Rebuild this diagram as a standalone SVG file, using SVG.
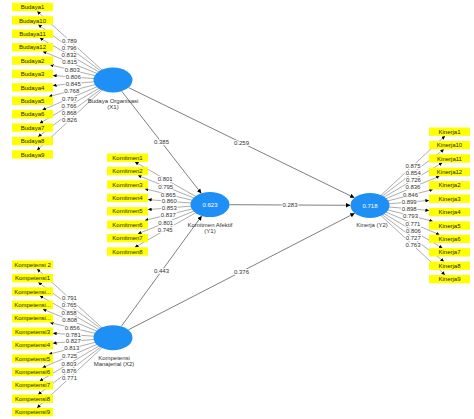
<svg xmlns="http://www.w3.org/2000/svg" width="474" height="419" viewBox="0 0 474 419">
<style>
.bg{fill:#ffffff}
.box{fill:#ffff00}
.bt{font-family:"Liberation Sans",Arial,sans-serif;font-size:6px;fill:#222;text-anchor:middle}
.lv{stroke:#8a8a8a;stroke-width:0.7;fill:none;marker-end:url(#ah)}
.sp{stroke:#707070;stroke-width:0.9;fill:none;marker-end:url(#ah2)}
.ld{font-family:"Liberation Sans",Arial,sans-serif;font-size:6px;fill:#333;text-anchor:middle;stroke:#fff;stroke-width:2;paint-order:stroke}
.lv2{font-family:"Liberation Sans",Arial,sans-serif;font-size:6px;fill:#333;text-anchor:middle}
.el{fill:#1e8ff5}
.ev{font-family:"Liberation Sans",Arial,sans-serif;font-size:6px;fill:#fff;text-anchor:middle}
</style>
<defs>
<marker id="ah" viewBox="0 0 10 10" refX="10" refY="5" markerWidth="3.6" markerHeight="3.6" markerUnits="userSpaceOnUse" orient="auto"><path d="M0,0 L10,5 L0,10 z" fill="#000"/></marker>
<marker id="ah2" viewBox="0 0 10 10" refX="10" refY="5" markerWidth="4.5" markerHeight="4.5" markerUnits="userSpaceOnUse" orient="auto"><path d="M0,0 L10,5 L0,10 z" fill="#000"/></marker>
</defs>
<rect class="bg" x="0" y="0" width="474" height="419"/>
<g id="connectors">
<path class="lv" d="M113,80 L37.1,11.2"/>
<path class="lv" d="M113,80 L38.2,24.6"/>
<path class="lv" d="M113,80 L39.8,38.0"/>
<path class="lv" d="M113,80 L42.8,51.4"/>
<path class="lv" d="M113,80 L49.9,64.8"/>
<path class="lv" d="M113,80 L53,75.5"/>
<path class="lv" d="M113,80 L53,85.5"/>
<path class="lv" d="M113,80 L48.75,96.6"/>
<path class="lv" d="M113,80 L42.4,110"/>
<path class="lv" d="M113,80 L39.6,123.4"/>
<path class="lv" d="M113,80 L38.05,136.8"/>
<path class="lv" d="M113,80 L37.05,150.2"/>
<path class="lv" d="M113,337.7 L37.1,268.9"/>
<path class="lv" d="M113,337.7 L38.2,282.3"/>
<path class="lv" d="M113,337.7 L39.8,295.7"/>
<path class="lv" d="M113,337.7 L42.8,309.1"/>
<path class="lv" d="M113,337.7 L49.9,322.5"/>
<path class="lv" d="M113,337.7 L53,333.2"/>
<path class="lv" d="M113,337.7 L53,343.2"/>
<path class="lv" d="M113,337.7 L48.75,354.3"/>
<path class="lv" d="M113,337.7 L42.4,367.7"/>
<path class="lv" d="M113,337.7 L39.6,381.1"/>
<path class="lv" d="M113,337.7 L38.05,394.5"/>
<path class="lv" d="M113,337.7 L37.05,407.9"/>
<path class="lv" d="M210,204.6 L134.9,161.9"/>
<path class="lv" d="M210,204.6 L137.85,175.3"/>
<path class="lv" d="M210,204.6 L144.7,188.7"/>
<path class="lv" d="M210,204.6 L148,199.6"/>
<path class="lv" d="M210,204.6 L148,209.6"/>
<path class="lv" d="M210,204.6 L144.7,220.5"/>
<path class="lv" d="M210,204.6 L137.85,233.9"/>
<path class="lv" d="M210,204.6 L134.9,247.3"/>
<path class="lv" d="M370,205.4 L445.0,135.9"/>
<path class="lv" d="M370,205.4 L444.0,149.3"/>
<path class="lv" d="M370,205.4 L442.4,162.7"/>
<path class="lv" d="M370,205.4 L439.5,176.1"/>
<path class="lv" d="M370,205.4 L432.9,189.5"/>
<path class="lv" d="M370,205.4 L429,200.4"/>
<path class="lv" d="M370,205.4 L429,210.4"/>
<path class="lv" d="M370,205.4 L432.9,221.3"/>
<path class="lv" d="M370,205.4 L439.5,234.7"/>
<path class="lv" d="M370,205.4 L442.4,248.1"/>
<path class="lv" d="M370,205.4 L444.0,261.5"/>
<path class="lv" d="M370,205.4 L445.0,274.9"/>
<path class="sp" d="M121.7,91.2 L201.3,193.4"/>
<path class="sp" d="M128.5,87.6 L354.5,197.8"/>
<path class="sp" d="M229.5,204.7 L350.5,205.3"/>
<path class="sp" d="M121.25,326.4 L201.75,215.9"/>
<path class="sp" d="M128.2,329.9 L354.8,213.2"/>
<g class="ld">
<text x="69.4" y="42.6">0.789</text>
<text x="69.2" y="49.7">0.796</text>
<text x="69.1" y="56.9">0.832</text>
<text x="69.7" y="64.4">0.815</text>
<text x="72.3" y="72.3">0.803</text>
<text x="73.3" y="79.1">0.806</text>
<text x="73.3" y="85.7">0.845</text>
<text x="71.8" y="92.7">0.768</text>
<text x="69.6" y="100.6">0.797</text>
<text x="69.1" y="108.0">0.766</text>
<text x="69.2" y="115.3">0.868</text>
<text x="69.5" y="122.3">0.826</text>
<text x="69.4" y="300.3">0.791</text>
<text x="69.2" y="307.4">0.765</text>
<text x="69.1" y="314.6">0.858</text>
<text x="69.7" y="322.1">0.808</text>
<text x="72.3" y="330.0">0.856</text>
<text x="73.3" y="336.8">0.781</text>
<text x="73.3" y="343.4">0.827</text>
<text x="71.8" y="350.4">0.813</text>
<text x="69.6" y="358.3">0.725</text>
<text x="69.1" y="365.7">0.803</text>
<text x="69.2" y="373.0">0.876</text>
<text x="69.5" y="380.0">0.771</text>
<text x="165.2" y="181.2">0.801</text>
<text x="165.7" y="188.7">0.795</text>
<text x="168.3" y="196.5">0.865</text>
<text x="169.3" y="203.4">0.860</text>
<text x="169.3" y="210.0">0.853</text>
<text x="168.3" y="216.9">0.837</text>
<text x="165.7" y="224.7">0.801</text>
<text x="165.2" y="232.2">0.745</text>
<text x="413.0" y="167.6">0.875</text>
<text x="413.3" y="174.7">0.854</text>
<text x="413.4" y="181.9">0.726</text>
<text x="412.9" y="189.4">0.836</text>
<text x="410.5" y="197.3">0.846</text>
<text x="409.2" y="204.2">0.899</text>
<text x="409.2" y="210.8">0.898</text>
<text x="410.5" y="217.7">0.793</text>
<text x="412.9" y="225.6">0.771</text>
<text x="413.4" y="233.1">0.806</text>
<text x="413.3" y="240.3">0.727</text>
<text x="413.0" y="247.4">0.763</text>
<text x="161.5" y="144.4">0.385</text>
<text x="241.5" y="144.8">0.259</text>
<text x="290" y="207.1">0.283</text>
<text x="161.5" y="273.3">0.443</text>
<text x="241.5" y="273.6">0.376</text>
</g>
</g>
<g id="budaya-organisasi">
<ellipse class="el" cx="113" cy="80" rx="19.5" ry="12.5"/>
<text class="lv2" x="113" y="102.5">Budaya Organisasi</text>
<text class="lv2" x="113" y="108.7">(X1)</text>
</g>
<g id="komitmen-afektif">
<ellipse class="el" cx="210" cy="204.6" rx="19.5" ry="12.5"/>
<text class="ev" x="210" y="206.7">0.623</text>
<text class="lv2" x="210" y="227.1">Komitmen Afektif</text>
<text class="lv2" x="210" y="233.3">(Y1)</text>
</g>
<g id="kinerja">
<ellipse class="el" cx="370" cy="205.4" rx="19.5" ry="12.5"/>
<text class="ev" x="370" y="207.5">0.718</text>
<text class="lv2" x="372" y="227.4">Kinerja (Y2)</text>
</g>
<g id="kompetensi-manajerial">
<ellipse class="el" cx="113" cy="337.7" rx="19.5" ry="12.5"/>
<text class="lv2" x="114" y="360.2">Kompetensi</text>
<text class="lv2" x="114" y="366.4">Manajerial (X2)</text>
</g>
<g id="budaya-indicators">
<g id="budaya1"><rect class="box" x="12" y="2.8" width="41" height="8.4"/><text class="bt" x="32.5" y="9.1">Budaya1</text></g>
<g id="budaya10"><rect class="box" x="12" y="16.2" width="41" height="8.4"/><text class="bt" x="32.5" y="22.5">Budaya10</text></g>
<g id="budaya11"><rect class="box" x="12" y="29.6" width="41" height="8.4"/><text class="bt" x="32.5" y="35.9">Budaya11</text></g>
<g id="budaya12"><rect class="box" x="12" y="43.0" width="41" height="8.4"/><text class="bt" x="32.5" y="49.3">Budaya12</text></g>
<g id="budaya2"><rect class="box" x="12" y="56.4" width="41" height="8.4"/><text class="bt" x="32.5" y="62.7">Budaya2</text></g>
<g id="budaya3"><rect class="box" x="12" y="69.8" width="41" height="8.4"/><text class="bt" x="32.5" y="76.1">Budaya3</text></g>
<g id="budaya4"><rect class="box" x="12" y="83.2" width="41" height="8.4"/><text class="bt" x="32.5" y="89.5">Budaya4</text></g>
<g id="budaya5"><rect class="box" x="12" y="96.6" width="41" height="8.4"/><text class="bt" x="32.5" y="102.9">Budaya5</text></g>
<g id="budaya6"><rect class="box" x="12" y="110.0" width="41" height="8.4"/><text class="bt" x="32.5" y="116.3">Budaya6</text></g>
<g id="budaya7"><rect class="box" x="12" y="123.4" width="41" height="8.4"/><text class="bt" x="32.5" y="129.7">Budaya7</text></g>
<g id="budaya8"><rect class="box" x="12" y="136.8" width="41" height="8.4"/><text class="bt" x="32.5" y="143.1">Budaya8</text></g>
<g id="budaya9"><rect class="box" x="12" y="150.2" width="41" height="8.4"/><text class="bt" x="32.5" y="156.5">Budaya9</text></g>
</g>
<g id="kompetensi-indicators">
<g id="kompetensi2"><rect class="box" x="12" y="260.5" width="41" height="8.4"/><text class="bt" x="32.5" y="266.8">Kompetensi 2</text></g>
<g id="kompetensi1"><rect class="box" x="12" y="273.9" width="41" height="8.4"/><text class="bt" x="32.5" y="280.2">Kompetensi1</text></g>
<g id="kompetensi-a"><rect class="box" x="12" y="287.3" width="41" height="8.4"/><text class="bt" x="32.5" y="293.6">Kompetensi...</text></g>
<g id="kompetensi-b"><rect class="box" x="12" y="300.7" width="41" height="8.4"/><text class="bt" x="32.5" y="307.0">Kompetensi...</text></g>
<g id="kompetensi-c"><rect class="box" x="12" y="314.1" width="41" height="8.4"/><text class="bt" x="32.5" y="320.4">Kompetensi...</text></g>
<g id="kompetensi3"><rect class="box" x="12" y="327.5" width="41" height="8.4"/><text class="bt" x="32.5" y="333.8">Kompetensi3</text></g>
<g id="kompetensi4"><rect class="box" x="12" y="340.9" width="41" height="8.4"/><text class="bt" x="32.5" y="347.2">Kompetensi4</text></g>
<g id="kompetensi5"><rect class="box" x="12" y="354.3" width="41" height="8.4"/><text class="bt" x="32.5" y="360.6">Kompetensi5</text></g>
<g id="kompetensi6"><rect class="box" x="12" y="367.7" width="41" height="8.4"/><text class="bt" x="32.5" y="374.0">Kompetensi6</text></g>
<g id="kompetensi7"><rect class="box" x="12" y="381.1" width="41" height="8.4"/><text class="bt" x="32.5" y="387.4">Kompetensi7</text></g>
<g id="kompetensi8"><rect class="box" x="12" y="394.5" width="41" height="8.4"/><text class="bt" x="32.5" y="400.8">Kompetensi8</text></g>
<g id="kompetensi9"><rect class="box" x="12" y="407.9" width="41" height="8.4"/><text class="bt" x="32.5" y="414.2">Kompetensi9</text></g>
</g>
<g id="komitmen-indicators">
<g id="komitmen1"><rect class="box" x="107" y="153.5" width="41" height="8.4"/><text class="bt" x="127.5" y="159.8">Komitmen1</text></g>
<g id="komitmen2"><rect class="box" x="107" y="166.9" width="41" height="8.4"/><text class="bt" x="127.5" y="173.2">Komitmen2</text></g>
<g id="komitmen3"><rect class="box" x="107" y="180.3" width="41" height="8.4"/><text class="bt" x="127.5" y="186.6">Komitmen3</text></g>
<g id="komitmen4"><rect class="box" x="107" y="193.7" width="41" height="8.4"/><text class="bt" x="127.5" y="200.0">Komitmen4</text></g>
<g id="komitmen5"><rect class="box" x="107" y="207.1" width="41" height="8.4"/><text class="bt" x="127.5" y="213.4">Komitmen5</text></g>
<g id="komitmen6"><rect class="box" x="107" y="220.5" width="41" height="8.4"/><text class="bt" x="127.5" y="226.8">Komitmen6</text></g>
<g id="komitmen7"><rect class="box" x="107" y="233.9" width="41" height="8.4"/><text class="bt" x="127.5" y="240.2">Komitmen7</text></g>
<g id="komitmen8"><rect class="box" x="107" y="247.3" width="41" height="8.4"/><text class="bt" x="127.5" y="253.6">Komitmen8</text></g>
</g>
<g id="kinerja-indicators">
<g id="kinerja1"><rect class="box" x="429" y="127.5" width="41" height="8.4"/><text class="bt" x="449.5" y="133.8">Kinerja1</text></g>
<g id="kinerja10"><rect class="box" x="429" y="140.9" width="41" height="8.4"/><text class="bt" x="449.5" y="147.2">Kinerja10</text></g>
<g id="kinerja11"><rect class="box" x="429" y="154.3" width="41" height="8.4"/><text class="bt" x="449.5" y="160.6">Kinerja11</text></g>
<g id="kinerja12"><rect class="box" x="429" y="167.7" width="41" height="8.4"/><text class="bt" x="449.5" y="174.0">Kinerja12</text></g>
<g id="kinerja2"><rect class="box" x="429" y="181.1" width="41" height="8.4"/><text class="bt" x="449.5" y="187.4">Kinerja2</text></g>
<g id="kinerja3"><rect class="box" x="429" y="194.5" width="41" height="8.4"/><text class="bt" x="449.5" y="200.8">Kinerja3</text></g>
<g id="kinerja4"><rect class="box" x="429" y="207.9" width="41" height="8.4"/><text class="bt" x="449.5" y="214.2">Kinerja4</text></g>
<g id="kinerja5"><rect class="box" x="429" y="221.3" width="41" height="8.4"/><text class="bt" x="449.5" y="227.6">Kinerja5</text></g>
<g id="kinerja6"><rect class="box" x="429" y="234.7" width="41" height="8.4"/><text class="bt" x="449.5" y="241.0">Kinerja6</text></g>
<g id="kinerja7"><rect class="box" x="429" y="248.1" width="41" height="8.4"/><text class="bt" x="449.5" y="254.4">Kinerja7</text></g>
<g id="kinerja8"><rect class="box" x="429" y="261.5" width="41" height="8.4"/><text class="bt" x="449.5" y="267.8">Kinerja8</text></g>
<g id="kinerja9"><rect class="box" x="429" y="274.9" width="41" height="8.4"/><text class="bt" x="449.5" y="281.2">Kinerja9</text></g>
</g>
</svg>
